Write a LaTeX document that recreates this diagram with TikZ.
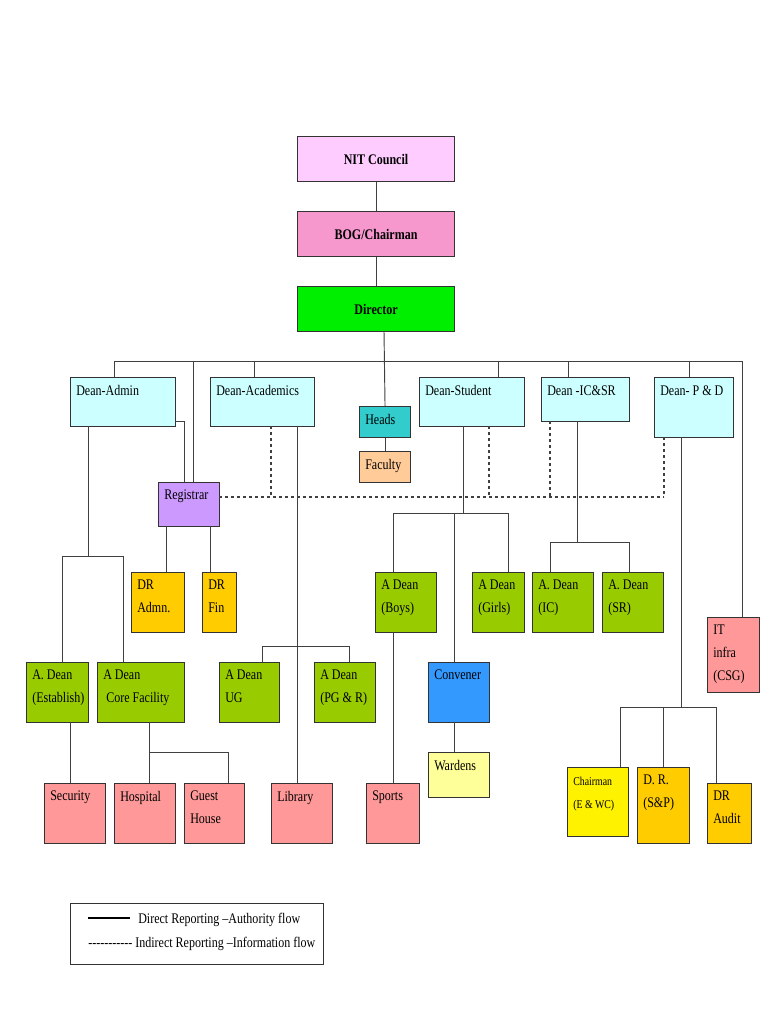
\documentclass[tikz,border=0pt]{standalone}
\usepackage{fontspec}
\setmainfont{Liberation Serif}[FakeStretch=0.82]
\usetikzlibrary{calc}
\definecolor{cdean}{HTML}{CCFFFF}
\definecolor{cgreen}{HTML}{99CC00}
\definecolor{cpink}{HTML}{FF9999}
\definecolor{cgold}{HTML}{FFCC00}
\tikzset{box/.style={draw=black!80,line width=0.8pt,inner sep=0pt},
 txt/.style={anchor=north west,align=left,inner sep=0pt,font=\fontsize{11}{17}\selectfont},
 link/.style={draw=black!75,line width=0.7pt},
 info/.style={draw=black!75,line width=0.8pt,dashed,dash pattern=on 2.5pt off 2pt}}
\newcommand\bx[7]{\node[box,fill=#6,minimum width={(#4-#2)*0.75pt},minimum height={(#5-#3)*0.75pt},anchor=north west] (#1) at (#2,#3) {};
 \node[txt] at ($(#1.north west)+(6,8)$) {#7};}
\begin{document}
\begin{tikzpicture}[x=0.75pt,y=-0.75pt]
\useasboundingbox (0,0) rectangle (768,1024);
% top
\node[box,fill={rgb,255:red,255;green,204;blue,255},minimum width=117.75pt,minimum height=33.75pt,anchor=north west,font=\bfseries\fontsize{11}{13}\selectfont] (nit) at (297,136) {NIT Council};
\node[box,fill={rgb,255:red,246;green,152;blue,206},minimum width=117.75pt,minimum height=33.75pt,anchor=north west,font=\bfseries\fontsize{11}{13}\selectfont] (bog) at (297,211) {BOG/Chairman};
\node[box,fill={rgb,255:red,0;green,238;blue,0},minimum width=117.75pt,minimum height=33.75pt,anchor=north west,font=\bfseries\fontsize{11}{13}\selectfont] (dir) at (297,286) {Director};
% deans
\bx{dadmin}{70}{377}{175}{426}{cdean}{Dean-Admin}
\bx{dacad}{210}{377}{314}{426}{cdean}{Dean-Academics}
\bx{dstud}{419}{377}{524}{426}{cdean}{Dean-Student}
\bx{dic}{541}{377}{629}{421}{cdean}{Dean -IC\&SR}
\bx{dpd}{654}{377}{733}{437}{cdean}{Dean- P \& D}
\bx{heads}{359}{406}{410}{437}{{rgb,255:red,51;green,204;blue,204}}{Heads}
\bx{fac}{359}{451}{410}{482}{{rgb,255:red,255;green,204;blue,153}}{Faculty}
\bx{reg}{158}{482}{219}{526}{{rgb,255:red,204;green,153;blue,255}}{Registrar}
\bx{dradm}{131}{572}{184}{632}{cgold}{DR\\Admn.}
\bx{drfin}{202}{572}{236}{632}{cgold}{DR\\Fin}
\bx{boys}{375}{572}{436}{632}{cgreen}{A Dean\\(Boys)}
\bx{girls}{472}{572}{524}{632}{cgreen}{A Dean\\(Girls)}
\bx{adic}{532}{572}{593}{632}{cgreen}{A. Dean\\(IC)}
\bx{adsr}{602}{572}{663}{632}{cgreen}{A. Dean\\(SR)}
\bx{it}{707}{617}{759}{692}{cpink}{IT\\infra\\(CSG)}
\bx{estab}{26}{662}{88}{722}{cgreen}{A. Dean\\(Establish)}
\bx{core}{97}{662}{184}{722}{cgreen}{A Dean\\\ Core Facility}
\bx{ug}{219}{662}{279}{722}{cgreen}{A Dean\\UG}
\bx{pg}{314}{662}{375}{722}{cgreen}{A Dean\\(PG \& R)}
\bx{conv}{428}{662}{489}{722}{{rgb,255:red,51;green,153;blue,255}}{Convener}
\bx{ward}{428}{752}{489}{797}{{rgb,255:red,255;green,255;blue,153}}{Wardens}
\bx{sec}{44}{783}{105}{843}{cpink}{Security}
\bx{hosp}{114}{783}{175}{843}{cpink}{Hospital}
\bx{guest}{184}{783}{244}{843}{cpink}{Guest\\House}
\bx{lib}{271}{783}{332}{843}{cpink}{Library}
\bx{sports}{366}{783}{419}{843}{cpink}{Sports}
\node[box,fill=yellow,minimum width={61*0.75pt},minimum height={69*0.75pt},anchor=north west] (chair) at (567,767) {};
\node[txt,font=\fontsize{9}{17}\selectfont] at ($(chair.north west)+(6,10)$) {Chairman\\(E \& WC)};
\bx{drsp}{637}{767}{689}{843}{cgold}{D. R.\\(S\&P)}
\bx{draud}{707}{783}{751}{843}{cgold}{DR\\Audit}
% connectors
\draw[link] (nit.south) -- (bog.north);
\draw[link] (bog.south) -- (dir.south |- 0,286);
\coordinate (bus) at (384,361);
\draw[link] (384,331) -- (heads.north);
\draw[link] (heads.south) -- (fac.north);
\draw[link] (114,377) -- (114,361) -- (742,361) -- (it.north -| 742,0);
\draw[link] (193,361) -- (193,482);
\draw[link] (254,361) -- (254,377);
\draw[link] (498,361) -- (498,377);
\draw[link] (568,361) -- (568,377);
\draw[link] (689,361) -- (689,377);
\draw[link] (175,421) -- (184,421) -- (184,482);
\draw[link] (166,526) -- (166,572);
\draw[link] (210,526) -- (210,572);
\draw[info] (219,497) -- (664,497);
\draw[info] (271,426) -- (271,497);
\draw[info] (489,426) -- (489,497);
\draw[info] (550,421) -- (550,497);
\draw[info] (664,437) -- (664,497);
\draw[link] (88,426) -- (88,556);
\draw[link] (62,662) -- (62,556) -- (123,556) -- (123,662);
\draw[link] (70,722) -- (70,783);
\draw[link] (149,722) -- (149,783);
\draw[link] (149,752) -- (228,752) -- (228,783);
\draw[link] (297,426) -- (297,783);
\draw[link] (262,662) -- (262,646) -- (349,646) -- (349,662);
\draw[link] (463,426) -- (463,513);
\draw[link] (393,572) -- (393,513) -- (508,513) -- (508,572);
\draw[link] (454,513) -- (454,662);
\draw[link] (393,632) -- (393,783);
\draw[link] (454,722) -- (454,752);
\draw[link] (577,421) -- (577,542);
\draw[link] (550,572) -- (550,542) -- (629,542) -- (629,572);
\draw[link] (681,437) -- (681,707);
\draw[link] (620,767) -- (620,707) -- (716,707) -- (716,783);
\draw[link] (663,707) -- (663,767);
% legend
\node[box,fill=white,minimum width={253*0.75pt},minimum height={61*0.75pt},anchor=north west] (leg) at (70,903) {};
\draw[black,line width=0.8pt] (88,918) -- (130,918);
\node[txt,anchor=west] at (138,920) {Direct Reporting --Authority flow};
\node[txt,anchor=west] at (88,944) {-{}-{}-{}-{}-{}-{}-{}-{}-{}-{}- Indirect Reporting --Information flow};
\end{tikzpicture}
\end{document}
